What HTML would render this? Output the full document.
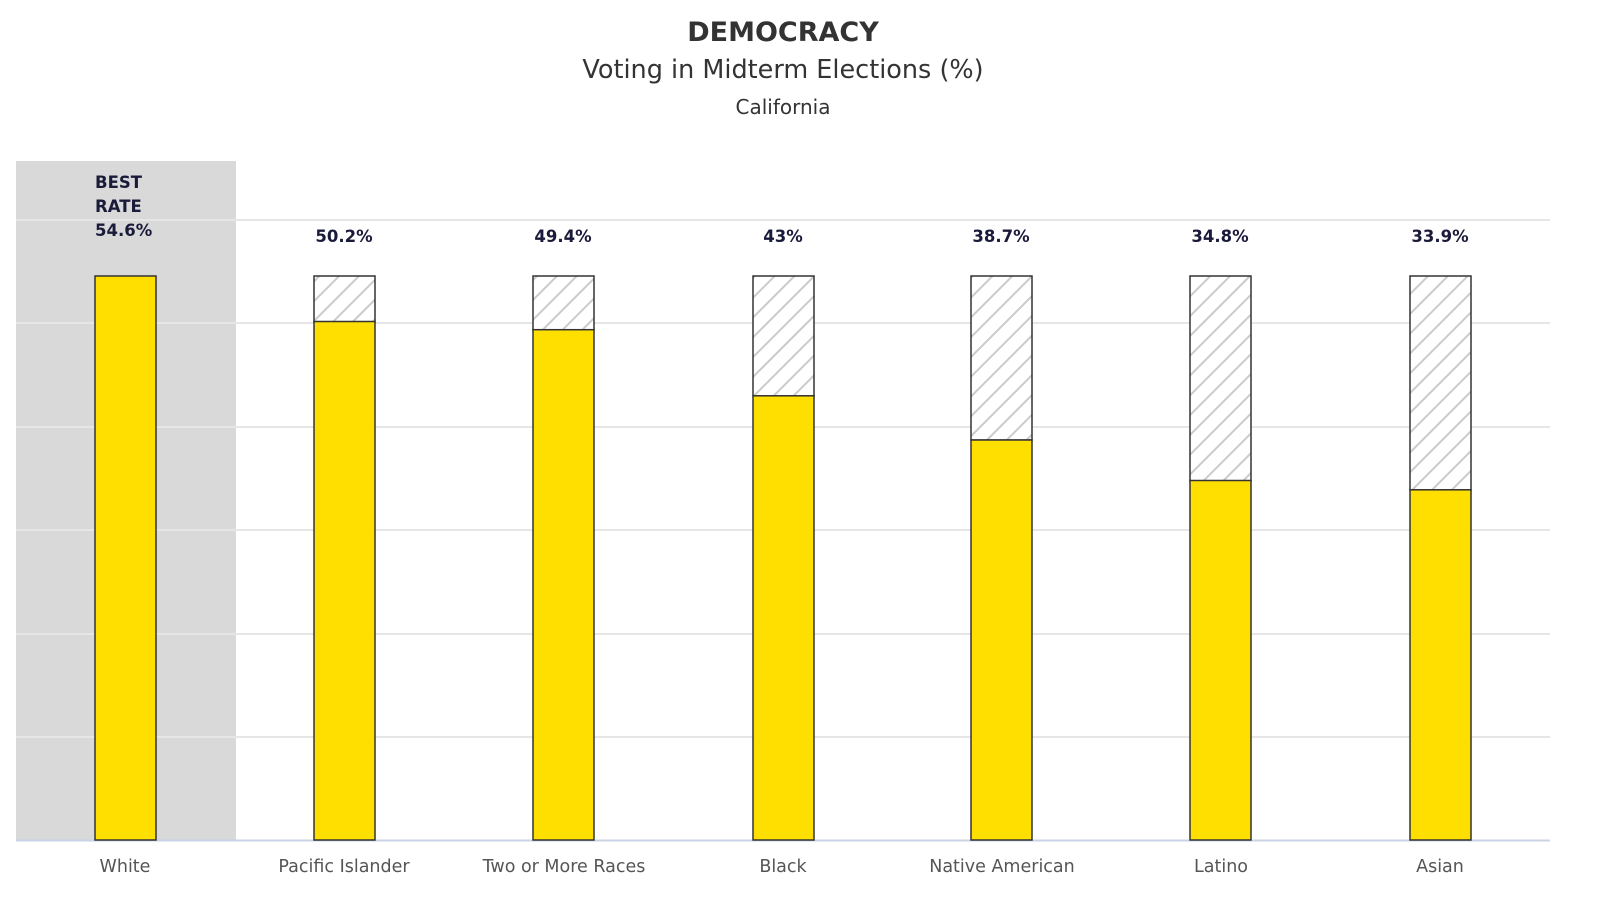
<!DOCTYPE html>
<html><head><meta charset="utf-8"><style>
html,body{margin:0;padding:0;background:#fff;}
svg{display:block;font-family:"DejaVu Sans","Liberation Sans",sans-serif;}
</style></head><body>
<svg width="1603" height="918" viewBox="0 0 1603 918" xmlns="http://www.w3.org/2000/svg">
<defs>
<pattern id="h" patternUnits="userSpaceOnUse" width="14" height="14" patternTransform="rotate(45)">
<rect width="14" height="14" fill="#fff"/>
<line x1="0" y1="0" x2="0" y2="14" stroke="#cbcbcb" stroke-width="4"/>
</pattern>
</defs>
<text x="783" y="41" text-anchor="middle" font-size="27" font-weight="bold" fill="#333">DEMOCRACY</text>
<text x="783" y="78" text-anchor="middle" font-size="25.5" fill="#333">Voting in Midterm Elections (%)</text>
<text x="783" y="114" text-anchor="middle" font-size="20" fill="#333">California</text>
<rect x="16" y="161" width="220" height="679" fill="#d9d9d9"/>
<g stroke="#e6e6e6" stroke-width="2">
<line x1="16" x2="1550" y1="220" y2="220"/>
<line x1="16" x2="1550" y1="323" y2="323"/>
<line x1="16" x2="1550" y1="427" y2="427"/>
<line x1="16" x2="1550" y1="530" y2="530"/>
<line x1="16" x2="1550" y1="634" y2="634"/>
<line x1="16" x2="1550" y1="737" y2="737"/>
</g>
<line x1="16" x2="1550" y1="840.5" y2="840.5" stroke="#c8d3e6" stroke-width="2"/>
<g stroke="#333" stroke-width="1.5">
<rect x="95" y="276" width="61" height="564" fill="#ffdf00"/>
<rect x="314" y="276" width="61" height="46" fill="url(#h)"/><rect x="314" y="321.5" width="61" height="518.5" fill="#ffdf00"/>
<rect x="533" y="276" width="61" height="54" fill="url(#h)"/><rect x="533" y="329.7" width="61" height="510.3" fill="#ffdf00"/>
<rect x="753" y="276" width="61" height="120" fill="url(#h)"/><rect x="753" y="395.8" width="61" height="444.2" fill="#ffdf00"/>
<rect x="971" y="276" width="61" height="164" fill="url(#h)"/><rect x="971" y="440" width="61" height="400" fill="#ffdf00"/>
<rect x="1190" y="276" width="61" height="205" fill="url(#h)"/><rect x="1190" y="480.5" width="61" height="359.5" fill="#ffdf00"/>
<rect x="1410" y="276" width="61" height="214" fill="url(#h)"/><rect x="1410" y="489.8" width="61" height="350.2" fill="#ffdf00"/>
</g>
<g font-size="16.5" font-weight="bold" fill="#1a1a3a" text-anchor="middle">
<text x="95" y="188" text-anchor="start">BEST</text>
<text x="95" y="212" text-anchor="start">RATE</text>
<text x="95" y="236" text-anchor="start">54.6%</text>
<text x="344" y="242">50.2%</text>
<text x="563" y="242">49.4%</text>
<text x="783" y="242">43%</text>
<text x="1001" y="242">38.7%</text>
<text x="1220" y="242">34.8%</text>
<text x="1440" y="242">33.9%</text>
</g>
<g font-size="17.5" fill="#555" text-anchor="middle">
<text x="125" y="872">White</text>
<text x="344" y="872">Pacific Islander</text>
<text x="564" y="872">Two or More Races</text>
<text x="783" y="872">Black</text>
<text x="1002" y="872">Native American</text>
<text x="1221" y="872">Latino</text>
<text x="1440" y="872">Asian</text>
</g>
</svg>
</body></html>
